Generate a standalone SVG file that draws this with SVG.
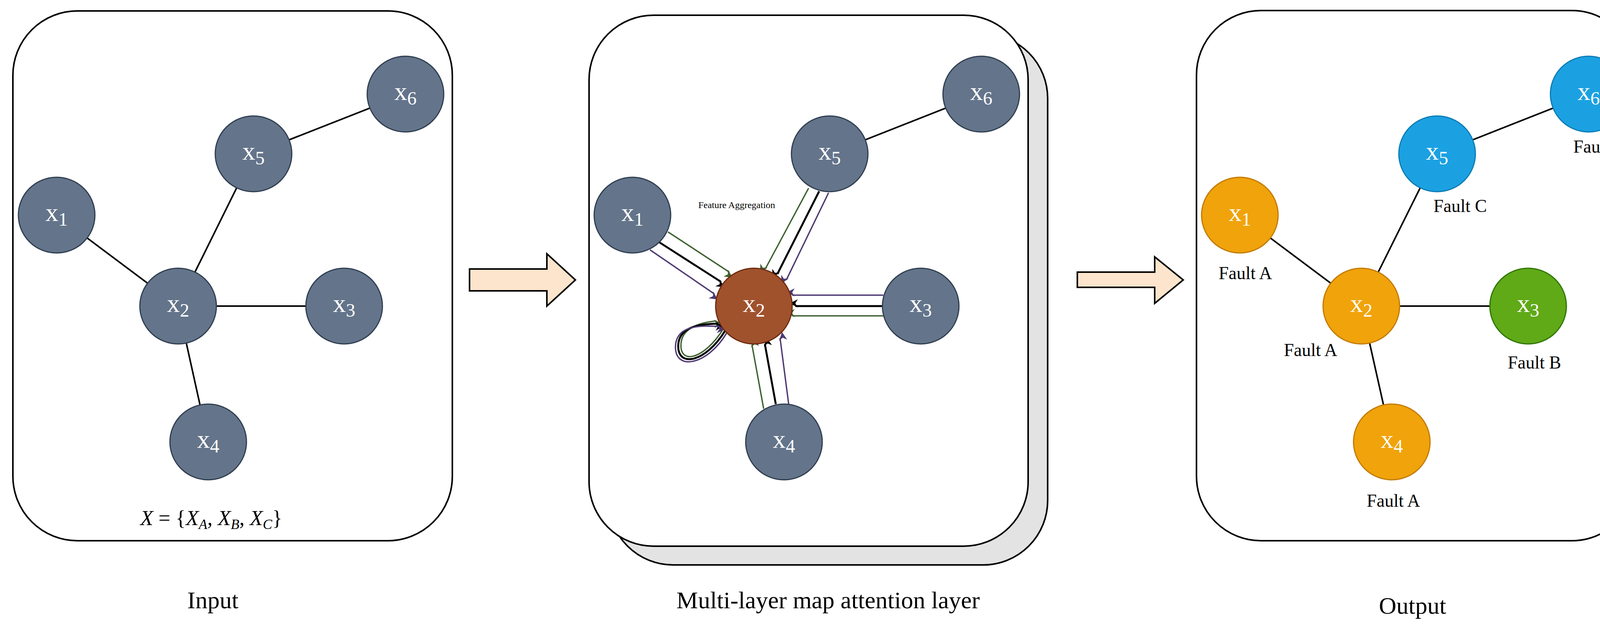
<svg xmlns="http://www.w3.org/2000/svg" width="4217" height="1606" viewBox="0 0 4217 1606">
<style>
.box{fill:#fff;stroke:#000;stroke-width:4}
.g{fill:#64748a;stroke:#2f3e50;stroke-width:3}
.o{fill:#f0a30a;stroke:#c27a00;stroke-width:3}
.b{fill:#1ba1e2;stroke:#0c7cb5;stroke-width:3}
.gr{fill:#60a917;stroke:#2d7600;stroke-width:3}
.r{fill:#a0522d;stroke:#6e2a0e;stroke-width:3}
.lbl{font-family:"Liberation Serif",serif;font-size:66px;fill:#fff;text-anchor:middle}
.sub{font-size:48px}
.edge{stroke:#000;stroke-width:4;fill:none}
.cap{font-family:"Liberation Serif",serif;font-size:62px;fill:#000;text-anchor:middle}
.fault{font-family:"Liberation Serif",serif;font-size:46px;fill:#000;text-anchor:middle}
.arr{fill:#fde4cc;stroke:#000;stroke-width:4}
.lg{stroke:#3f6130;stroke-width:3.5;fill:none;marker-end:url(#mg)}
.lk{stroke:#000;stroke-width:5;fill:none;marker-end:url(#mk)}
.lp{stroke:#4e3a73;stroke-width:3.5;fill:none;marker-end:url(#mp)}
</style>
<defs>
<marker id="mg" viewBox="0 0 10 10" refX="9" refY="5" markerWidth="7" markerHeight="7" markerUnits="userSpaceOnUse" orient="auto" style="overflow:visible"><path d="M0,0 L10,5 L0,10 L3,5 z" fill="#3f6130" transform="scale(3)"/></marker>
<marker id="mk" viewBox="0 0 10 10" refX="9" refY="5" markerWidth="7" markerHeight="7" markerUnits="userSpaceOnUse" orient="auto" style="overflow:visible"><path d="M0,0 L10,5 L0,10 L3,5 z" fill="#000" transform="scale(3)"/></marker>
<marker id="mp" viewBox="0 0 10 10" refX="9" refY="5" markerWidth="7" markerHeight="7" markerUnits="userSpaceOnUse" orient="auto" style="overflow:visible"><path d="M0,0 L10,5 L0,10 L3,5 z" fill="#4e3a73" transform="scale(3)"/></marker>
</defs>

<!-- panels -->
<g id="panel-input"><rect class="box" x="33" y="28" width="1125" height="1357" rx="165" ry="165"/></g>
<g id="panel-mid">
<rect x="1558" y="87" width="1124" height="1360" rx="165" ry="165" fill="#e3e3e3" stroke="#000" stroke-width="4"/>
<rect class="box" x="1508" y="39" width="1124" height="1360" rx="165" ry="165"/>
</g>
<g id="panel-output"><rect class="box" x="3063" y="27" width="1126" height="1358" rx="165" ry="165"/></g>

<!-- block arrows -->
<g id="arrow1"><path class="arr" d="M1202,689 L1400,689 L1400,650 L1473,717 L1400,784 L1400,745 L1202,745 z"/></g>
<g id="arrow2"><path class="arr" d="M2758,697 L2956,697 L2956,658 L3029,717 L2956,777 L2956,736 L2758,736 z"/></g>

<g id="connectors">
<!-- input -->
<line class="edge" x1="145" y1="551" x2="456" y2="784"/>
<line class="edge" x1="456" y1="784" x2="649" y2="394"/>
<line class="edge" x1="456" y1="784" x2="881" y2="784"/>
<line class="edge" x1="456" y1="784" x2="533" y2="1132"/>
<line class="edge" x1="649" y1="394" x2="1038" y2="241"/>
<!-- mid -->
<line class="edge" x1="2124" y1="394" x2="2512" y2="241"/>
<line class="lg" x1="1710" y1="594" x2="1867" y2="697"/>
<line class="lk" x1="1687" y1="620" x2="1846" y2="722"/>
<line class="lp" x1="1664" y1="640" x2="1829" y2="753"/>
<line class="lg" x1="2070" y1="482" x2="1959" y2="689"/>
<line class="lk" x1="2097" y1="490" x2="1990" y2="702"/>
<line class="lp" x1="2121" y1="494" x2="2013" y2="717"/>
<line class="lp" x1="2261" y1="756" x2="2028" y2="756"/>
<line class="lk" x1="2261" y1="784" x2="2036" y2="784"/>
<line class="lg" x1="2261" y1="809" x2="2028" y2="809"/>
<line class="lg" x1="1955" y1="1047" x2="1925" y2="883"/>
<line class="lk" x1="1986" y1="1035" x2="1958" y2="881"/>
<line class="lp" x1="2019" y1="1035" x2="1997" y2="866"/>
<path class="lg" d="M1852,842 C1800,925 1735,935 1744,875 C1750,838 1795,826 1834,822"/>
<path class="lk" d="M1857,846 C1805,932 1728,944 1737,877 C1744,835 1795,830 1838,829"/>
<path class="lp" d="M1862,850 C1810,940 1720,952 1730,879 C1738,832 1795,834 1842,836"/>
<!-- output -->
<line class="edge" x1="3174" y1="551" x2="3485" y2="784"/>
<line class="edge" x1="3485" y1="784" x2="3679" y2="394"/>
<line class="edge" x1="3485" y1="784" x2="3912" y2="784"/>
<line class="edge" x1="3485" y1="784" x2="3563" y2="1132"/>
<line class="edge" x1="3679" y1="394" x2="4067" y2="241"/>
</g>

<!-- input nodes -->
<g id="in-x1"><ellipse class="g" cx="145" cy="551" rx="98" ry="97"/><text class="lbl" x="145" y="566">x<tspan class="sub" dy="12">1</tspan></text></g>
<g id="in-x2"><ellipse class="g" cx="456" cy="784" rx="98" ry="97"/><text class="lbl" x="456" y="799">x<tspan class="sub" dy="12">2</tspan></text></g>
<g id="in-x3"><ellipse class="g" cx="881" cy="784" rx="98" ry="97"/><text class="lbl" x="881" y="799">x<tspan class="sub" dy="12">3</tspan></text></g>
<g id="in-x4"><ellipse class="g" cx="533" cy="1132" rx="98" ry="97"/><text class="lbl" x="533" y="1147">x<tspan class="sub" dy="12">4</tspan></text></g>
<g id="in-x5"><ellipse class="g" cx="649" cy="394" rx="98" ry="97"/><text class="lbl" x="649" y="409">x<tspan class="sub" dy="12">5</tspan></text></g>
<g id="in-x6"><ellipse class="g" cx="1038" cy="241" rx="98" ry="97"/><text class="lbl" x="1038" y="256">x<tspan class="sub" dy="12">6</tspan></text></g>
<g id="formula"><text x="541" y="1345" font-family="Liberation Serif,serif" font-size="54" text-anchor="middle" fill="#000"><tspan font-style="italic">X</tspan> = {<tspan font-style="italic">X</tspan><tspan font-style="italic" font-size="36" dy="10">A</tspan><tspan dy="-10">, </tspan><tspan font-style="italic">X</tspan><tspan font-style="italic" font-size="36" dy="10">B</tspan><tspan dy="-10">, </tspan><tspan font-style="italic">X</tspan><tspan font-style="italic" font-size="36" dy="10">C</tspan><tspan dy="-10">}</tspan></text></g>
<g id="cap-input"><text class="cap" x="545" y="1558">Input</text></g>

<!-- mid nodes -->
<g id="mid-x1"><ellipse class="g" cx="1619" cy="551" rx="98" ry="97"/><text class="lbl" x="1619" y="566">x<tspan class="sub" dy="12">1</tspan></text></g>
<g id="mid-x2"><ellipse class="r" cx="1930" cy="784" rx="98" ry="97"/><text class="lbl" x="1930" y="799">x<tspan class="sub" dy="12">2</tspan></text></g>
<g id="mid-x3"><ellipse class="g" cx="2357" cy="784" rx="98" ry="97"/><text class="lbl" x="2357" y="799">x<tspan class="sub" dy="12">3</tspan></text></g>
<g id="mid-x4"><ellipse class="g" cx="2007" cy="1132" rx="98" ry="97"/><text class="lbl" x="2007" y="1147">x<tspan class="sub" dy="12">4</tspan></text></g>
<g id="mid-x5"><ellipse class="g" cx="2124" cy="394" rx="98" ry="97"/><text class="lbl" x="2124" y="409">x<tspan class="sub" dy="12">5</tspan></text></g>
<g id="mid-x6"><ellipse class="g" cx="2512" cy="241" rx="98" ry="97"/><text class="lbl" x="2512" y="256">x<tspan class="sub" dy="12">6</tspan></text></g>
<g id="feat"><text x="1886" y="533" font-family="Liberation Serif,serif" font-size="24" text-anchor="middle" fill="#000">Feature Aggregation</text></g>
<g id="cap-mid"><text class="cap" x="2120" y="1558">Multi-layer map attention layer</text></g>

<!-- output nodes -->
<g id="out-x1"><ellipse class="o" cx="3174" cy="551" rx="98" ry="97"/><text class="lbl" x="3174" y="566">x<tspan class="sub" dy="12">1</tspan></text><text class="fault" x="3188" y="715">Fault A</text></g>
<g id="out-x2"><ellipse class="o" cx="3485" cy="784" rx="98" ry="97"/><text class="lbl" x="3485" y="799">x<tspan class="sub" dy="12">2</tspan></text><text class="fault" x="3355" y="912">Fault A</text></g>
<g id="out-x3"><ellipse class="gr" cx="3912" cy="784" rx="98" ry="97"/><text class="lbl" x="3912" y="799">x<tspan class="sub" dy="12">3</tspan></text><text class="fault" x="3928" y="944">Fault B</text></g>
<g id="out-x4"><ellipse class="o" cx="3563" cy="1132" rx="98" ry="97"/><text class="lbl" x="3563" y="1147">x<tspan class="sub" dy="12">4</tspan></text><text class="fault" x="3567" y="1298">Fault A</text></g>
<g id="out-x5"><ellipse class="b" cx="3679" cy="394" rx="98" ry="97"/><text class="lbl" x="3679" y="409">x<tspan class="sub" dy="12">5</tspan></text><text class="fault" x="3738" y="543">Fault C</text></g>
<g id="out-x6"><ellipse class="b" cx="4067" cy="241" rx="98" ry="97"/><text class="lbl" x="4067" y="256">x<tspan class="sub" dy="12">6</tspan></text><text class="fault" x="4096" y="391">Fault C</text></g>
<g id="cap-output"><text class="cap" x="3616" y="1572">Output</text></g>
</svg>
